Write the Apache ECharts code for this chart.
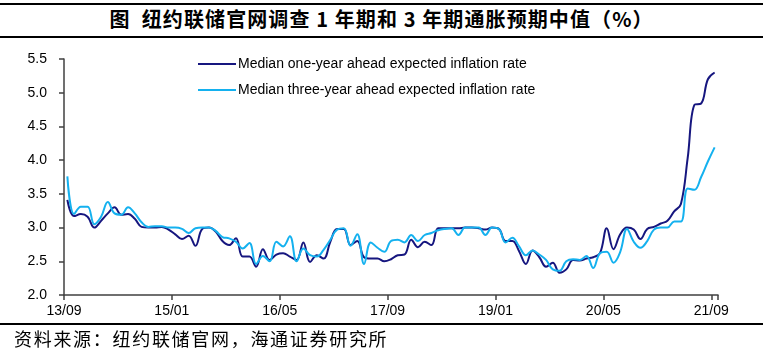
<!DOCTYPE html>
<html>
<head>
<meta charset="utf-8">
<script src="https://cdn.jsdelivr.net/npm/echarts@6/dist/echarts.min.js"></script>
<style>
  html, body { margin: 0; padding: 0; background: #fff; }
  #wrap { position: relative; width: 763px; height: 353px; overflow: hidden; }
  #chart { position: absolute; left: 0; top: 0; width: 763px; height: 353px; }
  .rule { position: absolute; left: 0; width: 763px; height: 0; border-top: 2px solid #000; }
  #title { position: absolute; left: 0; top: 7px; width: 763px; text-align: center;
           font: bold 20px 'Noto Sans CJK SC'; letter-spacing: 1.1px; line-height: 24px; color: #000; }
  #source { position: absolute; left: 14px; top: 327px; font: 18px 'Noto Sans CJK SC';
            letter-spacing: 1.7px; line-height: 22px; color: #000; }
</style>
</head>
<body>
<div id="wrap">
  <div class="rule" style="top:3px"></div>
  <div id="title">图&nbsp;&nbsp;纽约联储官网调查 1 年期和 3 年期通胀预期中值（%）</div>
  <div class="rule" style="top:36px"></div>
  <div id="chart"></div>
  <div class="rule" style="top:323px"></div>
  <div id="source">资料来源：纽约联储官网，海通证券研究所</div>
</div>
<script>
// monthly survey, first month 2013/09
const startYear = 2013
const startMonth = 9

// x-axis tick labels, every 16 months
const tickLabels = ['13/09', '15/01', '16/05', '17/09', '19/01', '20/05', '21/09']

// Median one-year ahead expected inflation rate (%)
const oneYear = [
  3.41, 3.17, 3.2, 3.16, 3.0, 3.1, 3.21, 3.3, 3.19, 3.2, 3.13, 3.01,
  3.0, 3.0, 3.01, 2.97, 2.9, 2.83, 2.88, 2.73, 2.98, 3.0, 2.94, 2.8,
  2.74, 2.84, 2.57, 2.57, 2.42, 2.68, 2.52, 2.6, 2.62, 2.57, 2.52, 2.78,
  2.49, 2.59, 2.54, 2.79, 2.98, 2.98, 2.74, 2.8, 2.56, 2.54, 2.54, 2.5,
  2.53, 2.59, 2.6, 2.82, 2.71, 2.79, 2.74, 2.99, 2.99, 2.99, 2.99, 3.0,
  3.0, 2.99, 2.97, 3.0, 2.98, 2.8, 2.8, 2.65, 2.46, 2.66, 2.56, 2.42,
  2.48, 2.33, 2.38, 2.52, 2.51, 2.54, 2.56, 2.62, 2.99, 2.68, 2.9, 3.0,
  2.97, 2.83, 2.98, 3.01, 3.06, 3.1, 3.24, 3.35, 4.03, 4.82, 4.84, 5.2,
  5.3
]

// Median three-year ahead expected inflation rate (%)
const threeYear = [
  3.76, 3.2, 3.31, 3.31, 3.05, 3.16, 3.38, 3.21, 3.19, 3.3, 3.21, 3.08,
  3.01, 3.02, 3.02, 3.0, 3.0, 2.98, 2.92, 2.99, 3.0, 3.0, 2.95, 2.86,
  2.84, 2.79, 2.69, 2.77, 2.46, 2.58, 2.5, 2.79, 2.72, 2.87, 2.5, 2.69,
  2.59, 2.57, 2.67, 2.82, 2.97, 2.99, 2.73, 2.9, 2.46, 2.78, 2.7, 2.64,
  2.8, 2.82, 2.78, 2.89, 2.8, 2.89, 2.92, 2.96, 2.98, 2.99, 2.89, 3.0,
  3.0, 3.0, 2.89, 3.0, 2.98, 2.78, 2.85, 2.72, 2.59, 2.66, 2.6, 2.52,
  2.38, 2.36, 2.5, 2.53, 2.52, 2.58, 2.4, 2.62, 2.64, 2.48, 2.64, 2.98,
  2.79, 2.7, 2.8, 2.97, 3.0, 3.0, 3.09, 3.09, 3.58, 3.56, 3.75, 3.98,
  4.19
]

const chart = echarts.init(document.getElementById('chart'))

// each month is plotted in the middle of its slot on a month-index axis
const toPoints = arr => arr.map((v, i) => [i + 0.5, v])

const axisColor = '#404040'
const labelFont = { color: '#000', fontSize: 14, fontFamily: 'Liberation Sans, Arial' }

chart.setOption({
  animation: false,
  grid: { left: 64, right: 45, top: 59, bottom: 58 },
  legend: {
    orient: 'vertical',
    left: 193,
    top: 51,
    icon: 'rect',
    itemWidth: 38,
    itemHeight: 2,
    itemGap: 10,
    textStyle: { ...labelFont, lineHeight: 16, padding: [0, 0, 0, -3] }
  },
  xAxis: {
    type: 'value',
    min: 0,
    max: oneYear.length,
    interval: 16,
    axisLine: { lineStyle: { color: axisColor, width: 1.5 } },
    axisTick: { length: 5, lineStyle: { color: axisColor, width: 1.5 } },
    axisLabel: {
      ...labelFont,
      margin: 9,
      formatter: v => (v % 16 === 0 ? tickLabels[v / 16] || '' : '')
    },
    splitLine: { show: false }
  },
  yAxis: {
    type: 'value',
    min: 2,
    max: 5.5,
    interval: 0.5,
    axisLine: { show: true, lineStyle: { color: axisColor, width: 1.5 } },
    axisTick: { show: true, length: 5, lineStyle: { color: axisColor, width: 1.5 } },
    axisLabel: { ...labelFont, margin: 17, formatter: v => v.toFixed(1) },
    splitLine: { show: false }
  },
  series: [
    {
      name: 'Median one-year ahead expected inflation rate',
      type: 'line',
      data: toPoints(oneYear),
      symbol: 'none',
      smooth: 0.4,
      itemStyle: { color: '#16167f' },
      lineStyle: { color: '#16167f', width: 2 }
    },
    {
      name: 'Median three-year ahead expected inflation rate',
      type: 'line',
      data: toPoints(threeYear),
      symbol: 'none',
      smooth: 0.4,
      itemStyle: { color: '#14b1ef' },
      lineStyle: { color: '#14b1ef', width: 2 }
    }
  ]
})
</script>
</body>
</html>
